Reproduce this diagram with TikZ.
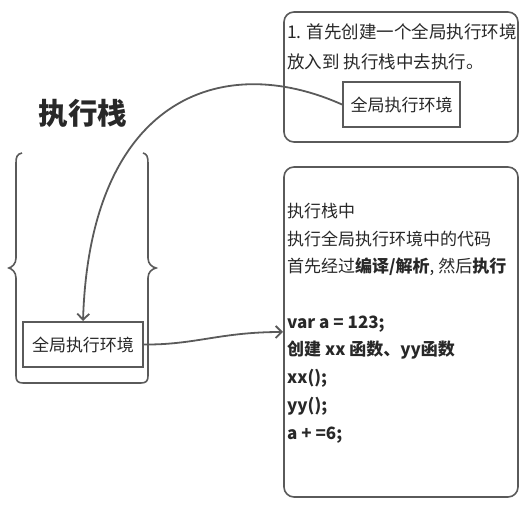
\documentclass[tikz,border=0pt]{standalone}
\usepackage{fontspec}
\setmainfont{Noto Sans CJK SC}
\usetikzlibrary{arrows.meta}
\definecolor{linegray}{RGB}{90,90,90}
\definecolor{textgray}{RGB}{40,40,40}

\begin{document}
\begin{tikzpicture}[x=1pt,y=-1pt,
   panel/.style={draw=linegray,line width=1.6pt,rounded corners=10pt,minimum width=234pt},
   ctx/.style={draw=linegray,line width=2pt,minimum width=118pt,minimum height=45pt,
      font=\fontsize{17}{20}\selectfont,text=textgray,inner sep=0pt},
   note/.style={anchor=west,align=left,inner sep=0pt,text=textgray},
   flow/.style={draw=linegray,line width=1.8pt,-{Straight Barb[length=6pt,width=12pt]}}]
   \useasboundingbox (0,0) rectangle (531,510);
   % left: the stack
   \node (title) at (83,113) {\fontsize{29.5}{30}\selectfont\bfseries\color{textgray}执行栈};
   \draw[linegray,line width=1.6pt]
     (22,153) .. controls (17,154) and (16,157) .. (16,163) -- (16,258)
     .. controls (16,264) and (12,267) .. (9,268)
     .. controls (12,269) and (16,272) .. (16,278) -- (16,376)
     .. controls (16,381) and (18,383) .. (23,383) -- (141,383)
     .. controls (146,383) and (148,381) .. (148,376) -- (148,278)
     .. controls (148,272) and (152,269) .. (156,268)
     .. controls (152,267) and (148,264) .. (148,258) -- (148,163)
     .. controls (148,157) and (147,154) .. (143,153);
   \node[ctx,minimum width=120pt] (stackctx) at (83,344.5) {全局执行环境};
   % right: the two notes
   \node[panel,minimum height=130pt] (topbox) at (401,77) {};
   \node[note,font=\fontsize{17.5}{30}\selectfont] (topnote) at (287,47)
     {1. 首先创建一个全局执行环境\\放入到 执行栈中去执行。};
   \node[ctx,minimum width=117pt] (topctx) at (401.5,104.5) {全局执行环境};
   \node[panel,minimum height=330pt] (codebox) at (401,332) {};
   \node[note,font=\fontsize{17}{27.7}\selectfont] (codetext) at (287,323)
     {执行栈中\\
      执行全局执行环境中的代码\\
      首先经过\textbf{编译/解析}, 然后\textbf{执行}\\
      \mbox{}\\
      \textbf{var a =\ 123;}\\
      \textbf{创建 xx 函数、yy函数}\\
      \textbf{xx();}\\
      \textbf{yy();}\\
      \textbf{a + =6;}};
   \coordinate (codein) at (283,332);
   \draw[flow] (topctx.west) .. controls (220,50) and (90,100) .. (stackctx.north); %push
   \draw[flow] (stackctx.east) .. controls (195,345) and (220,332) .. (codein); %run
\end{tikzpicture}
\end{document}
